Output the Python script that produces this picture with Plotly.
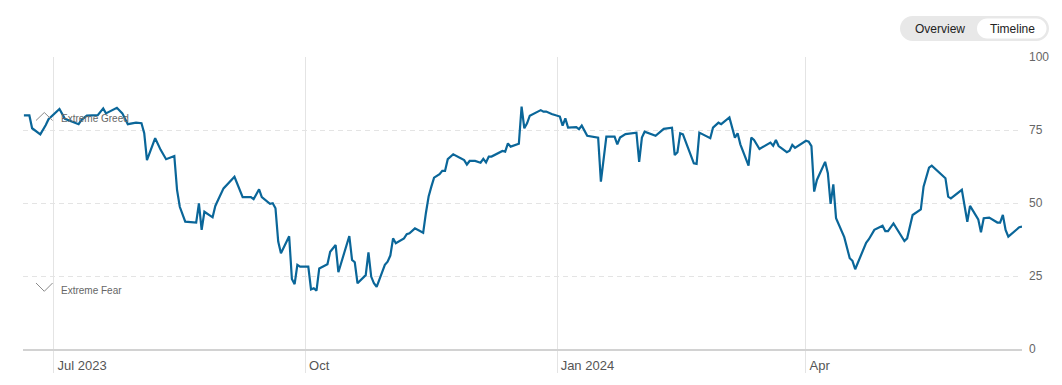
import plotly.graph_objects as go

dates = [
    "2023-06-20", "2023-06-22", "2023-06-23", "2023-06-26", "2023-06-28", "2023-06-29",
    "2023-07-03", "2023-07-05", "2023-07-10", "2023-07-11", "2023-07-13", "2023-07-17",
    "2023-07-19", "2023-07-20", "2023-07-24", "2023-07-26", "2023-07-28", "2023-07-31",
    "2023-08-02", "2023-08-03", "2023-08-04", "2023-08-07", "2023-08-09", "2023-08-11",
    "2023-08-14", "2023-08-15", "2023-08-16", "2023-08-18", "2023-08-22", "2023-08-23",
    "2023-08-24", "2023-08-25", "2023-08-28", "2023-08-29", "2023-08-30", "2023-09-01",
    "2023-09-05", "2023-09-08", "2023-09-11", "2023-09-12", "2023-09-14", "2023-09-15",
    "2023-09-18", "2023-09-19", "2023-09-20", "2023-09-21", "2023-09-22", "2023-09-25",
    "2023-09-26", "2023-09-27", "2023-09-28", "2023-09-29", "2023-10-02", "2023-10-03",
    "2023-10-04", "2023-10-05", "2023-10-06", "2023-10-09", "2023-10-10", "2023-10-12",
    "2023-10-13", "2023-10-17", "2023-10-18", "2023-10-19", "2023-10-20", "2023-10-23",
    "2023-10-24", "2023-10-25", "2023-10-26", "2023-10-27", "2023-10-30", "2023-10-31",
    "2023-11-01", "2023-11-02", "2023-11-03", "2023-11-06", "2023-11-07", "2023-11-08",
    "2023-11-10", "2023-11-13", "2023-11-14", "2023-11-15", "2023-11-16", "2023-11-17",
    "2023-11-19", "2023-11-20", "2023-11-21", "2023-11-22", "2023-11-24", "2023-11-27",
    "2023-11-28", "2023-11-29", "2023-11-30", "2023-12-02", "2023-12-04", "2023-12-05",
    "2023-12-06", "2023-12-07", "2023-12-08", "2023-12-12", "2023-12-13", "2023-12-14",
    "2023-12-15", "2023-12-18", "2023-12-19", "2023-12-20", "2023-12-21", "2023-12-22",
    "2023-12-26", "2023-12-27", "2023-12-28", "2023-12-30", "2024-01-02", "2024-01-03",
    "2024-01-04", "2024-01-05", "2024-01-08", "2024-01-09", "2024-01-10", "2024-01-12",
    "2024-01-16", "2024-01-17", "2024-01-18", "2024-01-19", "2024-01-22", "2024-01-23",
    "2024-01-24", "2024-01-26", "2024-01-30", "2024-01-31", "2024-02-01", "2024-02-02",
    "2024-02-06", "2024-02-09", "2024-02-12", "2024-02-13", "2024-02-14", "2024-02-15",
    "2024-02-16", "2024-02-20", "2024-02-21", "2024-02-22", "2024-02-26", "2024-02-27",
    "2024-02-29", "2024-03-01", "2024-03-04", "2024-03-06", "2024-03-07", "2024-03-08",
    "2024-03-11", "2024-03-12", "2024-03-13", "2024-03-15", "2024-03-19", "2024-03-20",
    "2024-03-21", "2024-03-22", "2024-03-25", "2024-03-26", "2024-03-27", "2024-03-28",
    "2024-04-01", "2024-04-02", "2024-04-03", "2024-04-04", "2024-04-05", "2024-04-08",
    "2024-04-09", "2024-04-10", "2024-04-11", "2024-04-12", "2024-04-15", "2024-04-17",
    "2024-04-18", "2024-04-19", "2024-04-23", "2024-04-24", "2024-04-26", "2024-04-29",
    "2024-04-30", "2024-05-01", "2024-05-03", "2024-05-07", "2024-05-08", "2024-05-10",
    "2024-05-13", "2024-05-14", "2024-05-16", "2024-05-17", "2024-05-22", "2024-05-23",
    "2024-05-24", "2024-05-28", "2024-05-30", "2024-05-31", "2024-06-03", "2024-06-04",
    "2024-06-05", "2024-06-07", "2024-06-10", "2024-06-11", "2024-06-12", "2024-06-13",
    "2024-06-14", "2024-06-18", "2024-06-19",
]

index_values = [
    80, 80, 75.6, 73.5, 76.7, 78.7,
    82.2, 78.8, 77, 78.4, 79.9, 80.1,
    82.4, 80.7, 82.6, 80.7, 77, 77.5,
    77.3, 73.9, 64.7, 72.2, 68.2, 65,
    66.1, 54.5, 48.7, 43.6, 43.3, 49.9,
    40.8, 47, 45.1, 49, 51, 55,
    59, 52, 52, 51.3, 54.7, 52,
    49.7, 49.9, 48.2, 36.8, 32.8, 38.6,
    24, 22.2, 28.8, 28.2, 28.2, 20.4,
    20.8, 20, 27.6, 29, 33.3, 35.6,
    26.3, 38.7, 30.5, 29.7, 22.5, 25.3,
    33.1, 24.8, 22.5, 21.3, 28.8, 29.9,
    32, 37.9, 36.2, 37.9, 39.3, 39.6,
    41.3, 39.8, 46.5, 52.2, 55.6, 58.7,
    59.9, 61, 61, 65, 66.7, 65.3,
    64.7, 63.2, 64.4, 64.4, 63.8, 65.1,
    63.9, 65.9, 65.9, 67.8, 67.6, 70.4,
    69.3, 70.3, 83, 75.6, 77.3, 79.9,
    81.8, 81.3, 81.3, 80.5, 79.6, 76.5,
    79, 75.8, 76, 75.3, 76.5, 73,
    72.4, 57.3, 65.9, 72.7, 72.7, 70.1,
    72.4, 73.6, 74.1, 64.1, 72.4, 74.4,
    73, 75.4, 75.8, 66.4, 67.4, 73.9,
    73.5, 63.6, 63.4, 74.1, 72.2, 75.8,
    77.5, 77, 79.3, 72.4, 73.9, 70.1,
    62.8, 72.4, 71.6, 68.5, 70.7, 69.6,
    71.6, 69.5, 67.4, 67.9, 69.9, 68.9,
    71.3, 71, 69.5, 53.9, 57.9, 64.1,
    60.2, 49.7, 56.4, 44.8, 38.3, 31.1,
    30.2, 27.3, 36.4, 37.6, 40.8, 42.2,
    40.4, 40.4, 43, 37, 37.9, 45.9,
    47.8, 55.6, 62.1, 62.8, 58.5, 52.2,
    51.6, 54.5, 43.6, 49, 44.4, 40,
    44.8, 45, 43.3, 43.3, 45.9, 40.8,
    38.5, 41.7, 41.9,
]

tick_dates = ["2023-07-01", "2023-10-01", "2024-01-01", "2024-04-01"]
tick_labels = ["Jul 2023", "Oct", "Jan 2024", "Apr"]
y_ticks = [0, 25, 50, 75, 100]

zone_labels = ["Extreme Greed", "Extreme Fear"]
toggle_labels = ["Overview", "Timeline"]

# ---- layout geometry (page pixels); the page body adds an 8px offset ----
OFF = 8
W, H = 1062, 385
ML, MR, MT, MB = 23, 40, 57, 36
PW = W - ML - MR
PH = H - MT - MB


def px(x, y):
    """page pixel (from top-left) -> paper coords"""
    return (x - ML) / PW, (H - MB - y) / PH


def path_from(points_cmds):
    out = []
    for cmd, pts in points_cmds:
        coords = []
        for (x, y) in pts:
            a, b = px(x, y)
            coords.append(f"{a:.5f},{b:.5f}")
        out.append(cmd + " " + " ".join(coords))
    return " ".join(out) + " Z"


def pill(x0, y0, x1, y1):
    r = (y1 - y0) / 2
    k = 0.5523 * r
    return path_from([
        ("M", [(x0 + r, y0)]),
        ("L", [(x1 - r, y0)]),
        ("C", [(x1 - r + k, y0), (x1, y0 + r - k), (x1, y0 + r)]),
        ("C", [(x1, y0 + r + k), (x1 - r + k, y1), (x1 - r, y1)]),
        ("L", [(x0 + r, y1)]),
        ("C", [(x0 + r - k, y1), (x0, y0 + r + k), (x0, y0 + r)]),
        ("C", [(x0, y0 + r - k), (x0 + r - k, y0), (x0 + r, y0)]),
    ])


def polyline(pts):
    s = []
    for i, (x, y) in enumerate(pts):
        a, b = px(x, y)
        s.append(("M " if i == 0 else "L ") + f"{a:.5f},{b:.5f}")
    return " ".join(s)


fig = go.Figure()
fig.add_trace(go.Scatter(
    x=dates, y=index_values, mode="lines",
    line=dict(color="#0a6699", width=2.2),
    hoverinfo="x+y", showlegend=False,
))

font_family = "Liberation Sans, Arial, sans-serif"

shapes = [
    dict(type="path", xref="paper", yref="paper", path=pill(900, 16, 1049, 41),
         fillcolor="#e8e8e8", line=dict(width=0), layer="above"),
    dict(type="path", xref="paper", yref="paper", path=pill(977, 18.5, 1046.5, 38.5),
         fillcolor="#ffffff", line=dict(width=0), layer="above"),
    dict(type="path", xref="paper", yref="paper",
         path=polyline([(36, 120.5), (44.3, 112.5), (52.6, 120.5)]),
         line=dict(color="#8a8a8a", width=1), layer="above"),
    dict(type="path", xref="paper", yref="paper",
         path=polyline([(36, 283), (44.3, 291.3), (52.6, 283)]),
         line=dict(color="#8a8a8a", width=1), layer="above"),
]

annotations = []
for lbl, ypix in zip(zone_labels, [118.5, 290]):
    ax, ay = px(59, ypix)
    annotations.append(dict(x=ax, y=ay, xref="paper", yref="paper", text=lbl,
                            showarrow=False, xanchor="left", yanchor="middle",
                            font=dict(size=10, color="#666666", family=font_family)))
for lbl, xpix in zip(toggle_labels, [939.5, 1012]):
    ax, ay = px(xpix, 28.5)
    annotations.append(dict(x=ax, y=ay, xref="paper", yref="paper", text=lbl,
                            showarrow=False, xanchor="center", yanchor="middle",
                            font=dict(size=12, color="#222222", family=font_family)))

fig.update_layout(
    width=W - OFF, height=H - OFF,
    margin=dict(l=ML - OFF, r=MR, t=MT - OFF, b=MB, pad=0, autoexpand=False),
    paper_bgcolor="white", plot_bgcolor="white",
    shapes=shapes, annotations=annotations,
    showlegend=False,
    font=dict(family=font_family, color="#666666"),
    xaxis=dict(
        type="date", automargin=False,
        range=["2023-06-19 16:00", "2024-06-19 00:00"],
        tickvals=tick_dates, ticktext=tick_labels,
        showgrid=True, gridcolor="#e4e4e4", gridwidth=1,
        ticks="outside", ticklen=22, tickcolor="#e4e4e4", tickwidth=1,
        ticklabelposition="outside right", ticklabelstandoff=3, ticklabelshift=2,
        tickfont=dict(size=13, color="#555555", family=font_family),
        showline=True, linecolor="#d2d2d2", linewidth=2,
        zeroline=False, fixedrange=True,
    ),
    yaxis=dict(
        range=[0, 100], side="right", automargin=False,
        tickvals=y_ticks,
        showgrid=True, gridcolor="#e4e4e4", gridwidth=1, griddash="5px,4px",
        ticks="", ticklabelstandoff=6,
        tickfont=dict(size=12, color="#666666", family=font_family),
        zeroline=False, showline=False, fixedrange=True,
    ),
)

fig.write_html("out.html")
